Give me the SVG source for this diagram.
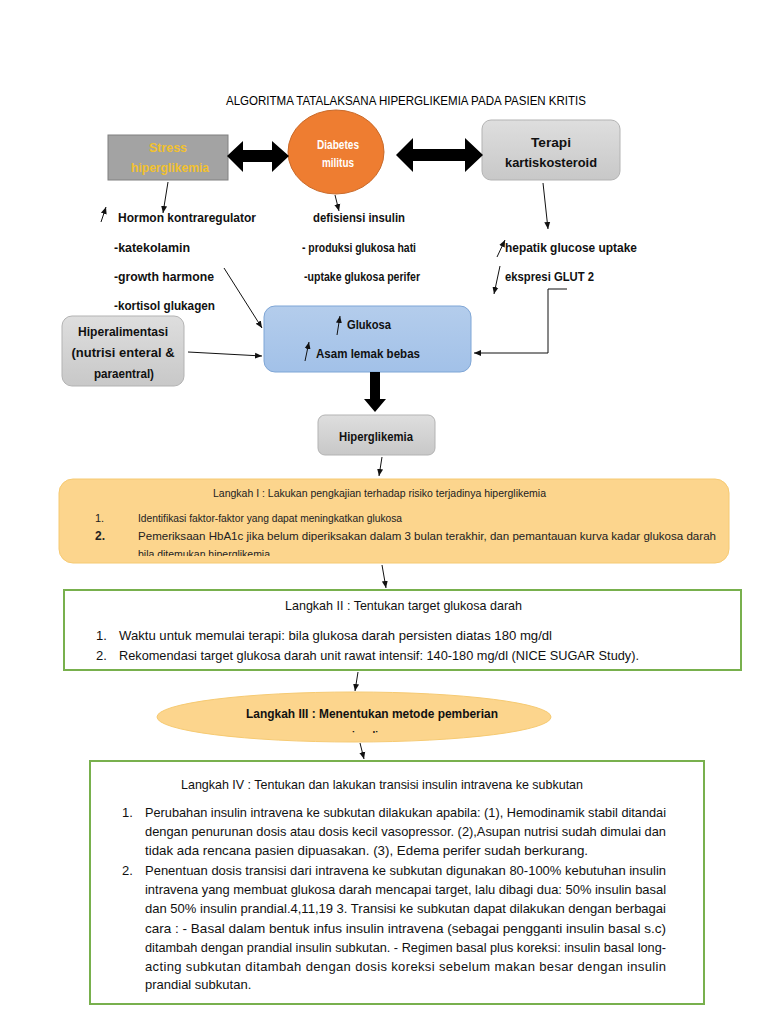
<svg xmlns="http://www.w3.org/2000/svg" width="768" height="1024" viewBox="0 0 768 1024">
<defs>
<style>
text{font-family:"Liberation Sans Narrow","Liberation Sans",Arial,sans-serif;fill:#111;}
.t{font-size:13px;}
.b{font-size:13px;font-weight:bold;}
.s{font-size:11px;fill:#222;font-family:"Liberation Sans",Arial,sans-serif;}
.ln{stroke:#111;stroke-width:1;fill:none;}
</style>
<marker id="ah" markerWidth="8" markerHeight="8" refX="7" refY="4" orient="auto" markerUnits="userSpaceOnUse">
<path d="M0,1 L7,4 L0,7 Z" fill="#111"/>
</marker>
<linearGradient id="gray" x1="0" y1="0" x2="0" y2="1">
<stop offset="0" stop-color="#dedede"/><stop offset="1" stop-color="#c8c8c8"/>
</linearGradient>
<linearGradient id="blue" x1="0" y1="0" x2="0" y2="1">
<stop offset="0" stop-color="#b4cdec"/><stop offset="1" stop-color="#a2c1e8"/>
</linearGradient>
<clipPath id="c1"><rect x="60" y="480" width="668" height="76"/></clipPath>
<clipPath id="c3"><rect x="156" y="692" width="396" height="41"/></clipPath>
</defs>
<rect width="768" height="1024" fill="#fff"/>

<text class="t" x="406" y="105" text-anchor="middle" textLength="360" lengthAdjust="spacingAndGlyphs" style="fill:#000">ALGORITMA TATALAKSANA HIPERGLIKEMIA PADA PASIEN KRITIS</text>

<g id="stress">
<rect x="108" y="135" width="120" height="45" fill="#a3a3a3" stroke="#808080"/>
<text class="b" x="168" y="152" text-anchor="middle" style="fill:#f2c12e" textLength="38" lengthAdjust="spacingAndGlyphs">Stress</text>
<text class="b" x="170" y="172" text-anchor="middle" style="fill:#f2c12e" textLength="78" lengthAdjust="spacingAndGlyphs">hiperglikemia</text>
</g>
<g id="dm">
<ellipse cx="336" cy="152" rx="48" ry="42" fill="#ee7d31" stroke="#c96a2a"/>
<text class="b" x="338" y="149" text-anchor="middle" style="fill:#fff" textLength="42" lengthAdjust="spacingAndGlyphs">Diabetes</text>
<text class="b" x="338" y="167" text-anchor="middle" style="fill:#fff" textLength="32" lengthAdjust="spacingAndGlyphs">militus</text>
</g>
<g id="terapi">
<rect x="482" y="120" width="138" height="60" rx="9" fill="url(#gray)" stroke="#b3b3b3"/>
<text class="b" x="551" y="147" text-anchor="middle" textLength="40" lengthAdjust="spacingAndGlyphs">Terapi</text>
<text class="b" x="551" y="167" text-anchor="middle" textLength="92" lengthAdjust="spacingAndGlyphs">kartiskosteroid</text>
</g>

<g id="labels">
<text class="b" x="118" y="222" textLength="138" lengthAdjust="spacingAndGlyphs">Hormon kontraregulator</text>
<text class="b" x="114" y="252" textLength="76" lengthAdjust="spacingAndGlyphs">-katekolamin</text>
<text class="b" x="114" y="281" textLength="100" lengthAdjust="spacingAndGlyphs">-growth harmone</text>
<text class="b" x="114" y="310" textLength="101" lengthAdjust="spacingAndGlyphs">-kortisol glukagen</text>
<text class="b" x="313" y="222" textLength="92" lengthAdjust="spacingAndGlyphs">defisiensi insulin</text>
<text class="b" x="302" y="252" textLength="114" lengthAdjust="spacingAndGlyphs">- produksi glukosa hati</text>
<text class="b" x="304" y="281" textLength="116" lengthAdjust="spacingAndGlyphs">-uptake glukosa perifer</text>
<text class="b" x="505" y="252" textLength="132" lengthAdjust="spacingAndGlyphs">hepatik glucose uptake</text>
<text class="b" x="505" y="281" textLength="89" lengthAdjust="spacingAndGlyphs">ekspresi GLUT 2</text>
</g>

<g id="hiperalimentasi">
<rect x="62" y="316" width="122" height="70" rx="10" fill="url(#gray)" stroke="#b3b3b3"/>
<text class="b" x="123" y="336" text-anchor="middle" textLength="90" lengthAdjust="spacingAndGlyphs">Hiperalimentasi</text>
<text class="b" x="123" y="357" text-anchor="middle" textLength="103" lengthAdjust="spacingAndGlyphs">(nutrisi enteral &amp;</text>
<text class="b" x="124" y="378" text-anchor="middle" textLength="60" lengthAdjust="spacingAndGlyphs">paraentral)</text>
</g>
<g id="glukosa">
<rect x="264" y="306" width="207" height="66" rx="11" fill="url(#blue)" stroke="#7fa6d6"/>
<text class="b" x="347" y="329" textLength="44" lengthAdjust="spacingAndGlyphs">Glukosa</text>
<text class="b" x="316" y="358" textLength="104" lengthAdjust="spacingAndGlyphs">Asam lemak bebas</text>
</g>
<g id="hiperglikemia">
<rect x="318" y="415" width="117" height="40" rx="7" fill="url(#gray)" stroke="#b3b3b3"/>
<text class="b" x="376" y="441" text-anchor="middle" textLength="74" lengthAdjust="spacingAndGlyphs">Hiperglikemia</text>
</g>

<g id="langkah1">
<rect x="59" y="479" width="670" height="84" rx="14" fill="#fcd58d" stroke="#f6ca72"/>
<text class="s" x="213" y="497" textLength="333" lengthAdjust="spacingAndGlyphs">Langkah I : Lakukan pengkajian terhadap risiko terjadinya hiperglikemia</text>
<text class="s" x="95" y="522">1.</text>
<text class="s" x="138" y="522" textLength="264" lengthAdjust="spacingAndGlyphs">Identifikasi faktor-faktor yang dapat meningkatkan glukosa</text>
<text class="s" x="95" y="540" style="font-weight:bold;font-size:12px">2.</text>
<text class="s" x="138" y="540" textLength="578" lengthAdjust="spacingAndGlyphs">Pemeriksaan HbA1c jika belum diperiksakan dalam 3 bulan terakhir, dan pemantauan kurva kadar glukosa darah</text>
<text class="s" x="138" y="558" clip-path="url(#c1)" textLength="132" lengthAdjust="spacingAndGlyphs">bila ditemukan hiperglikemia</text>
</g>

<g id="langkah2">
<rect x="64" y="590" width="677" height="80" fill="#fff" stroke="#78b04d" stroke-width="2"/>
<text class="t" x="285" y="610" textLength="237" lengthAdjust="spacingAndGlyphs">Langkah II : Tentukan target glukosa darah</text>
<text class="t" x="96" y="640">1.</text>
<text class="t" x="119" y="640" textLength="433" lengthAdjust="spacingAndGlyphs">Waktu untuk memulai terapi: bila glukosa darah persisten diatas 180 mg/dl</text>
<text class="t" x="96" y="660">2.</text>
<text class="t" x="119" y="660" textLength="520" lengthAdjust="spacingAndGlyphs">Rekomendasi target glukosa darah unit rawat intensif: 140-180 mg/dl (NICE SUGAR Study).</text>
</g>

<g id="langkah3">
<ellipse cx="354" cy="717" rx="197" ry="25" fill="#fcd58d" stroke="#f6ca72"/>
<text class="b" x="246" y="718" textLength="252" lengthAdjust="spacingAndGlyphs">Langkah III : Menentukan metode pemberian</text>
<text class="b" x="352" y="740" clip-path="url(#c3)" textLength="32" lengthAdjust="spacingAndGlyphs">insulin</text>
</g>

<g id="langkah4">
<rect x="90" y="761" width="614" height="243" fill="#fff" stroke="#78b04d" stroke-width="2"/>
<text class="t" x="181" y="789" textLength="402" lengthAdjust="spacingAndGlyphs">Langkah IV : Tentukan dan lakukan transisi insulin intravena ke subkutan</text>
<text class="t" x="122" y="817">1.</text>
<text class="t" x="145" y="817" textLength="521" lengthAdjust="spacingAndGlyphs">Perubahan insulin intravena ke subkutan dilakukan apabila: (1), Hemodinamik stabil ditandai</text>
<text class="t" x="145" y="836" textLength="521" lengthAdjust="spacingAndGlyphs">dengan penurunan dosis atau dosis kecil vasopressor. (2),Asupan nutrisi sudah dimulai dan</text>
<text class="t" x="145" y="855" textLength="443" lengthAdjust="spacingAndGlyphs">tidak ada rencana pasien dipuasakan. (3), Edema perifer sudah berkurang.</text>
<text class="t" x="122" y="875">2.</text>
<text class="t" x="145" y="875" textLength="521" lengthAdjust="spacingAndGlyphs">Penentuan dosis transisi dari intravena ke subkutan digunakan 80-100% kebutuhan insulin</text>
<text class="t" x="145" y="894" textLength="521" lengthAdjust="spacingAndGlyphs">intravena yang membuat glukosa darah mencapai target, lalu dibagi dua: 50% insulin basal</text>
<text class="t" x="145" y="913" textLength="521" lengthAdjust="spacingAndGlyphs">dan 50% insulin prandial.4,11,19 3. Transisi ke subkutan dapat dilakukan dengan berbagai</text>
<text class="t" x="145" y="933" textLength="521" lengthAdjust="spacingAndGlyphs">cara : - Basal dalam bentuk infus insulin intravena (sebagai pengganti insulin basal s.c)</text>
<text class="t" x="145" y="952" textLength="521" lengthAdjust="spacingAndGlyphs">ditambah dengan prandial insulin subkutan. - Regimen basal plus koreksi: insulin basal long-</text>
<text class="t" x="145" y="971" textLength="521" lengthAdjust="spacing">acting subkutan ditambah dengan dosis koreksi sebelum makan besar dengan insulin</text>
<text class="t" x="145" y="989">prandial subkutan.</text>
</g>

<g id="connectors">
<path d="M227,156 L243,141 L243,150 L272,150 L272,141 L289,156 L272,172 L272,162 L243,162 L243,172 Z" fill="#000"/>
<path d="M396,155 L413,138 L413,149 L465,149 L465,138 L483,155 L465,172 L465,161 L413,161 L413,172 Z" fill="#000"/>
<path d="M370,372 L380,372 L380,399 L386,399 L375,412 L364,399 L370,399 Z" fill="#000"/>
<line class="ln" x1="168" y1="182" x2="163" y2="213" marker-end="url(#ah)"/>
<line class="ln" x1="101" y1="222" x2="106" y2="207" marker-end="url(#ah)"/>
<line class="ln" x1="335" y1="195" x2="339" y2="211" marker-end="url(#ah)"/>
<line class="ln" x1="543" y1="183" x2="548" y2="229" marker-end="url(#ah)"/>
<line class="ln" x1="497" y1="257" x2="505" y2="240" marker-end="url(#ah)"/>
<line class="ln" x1="500" y1="266" x2="494" y2="294" marker-end="url(#ah)"/>
<line class="ln" x1="224" y1="268" x2="262" y2="328" marker-end="url(#ah)"/>
<line class="ln" x1="188" y1="352" x2="262" y2="356" marker-end="url(#ah)"/>
<polyline class="ln" points="567,289 548,289 548,353 474,353" marker-end="url(#ah)"/>
<line class="ln" x1="337" y1="335" x2="340" y2="316" marker-end="url(#ah)"/>
<line class="ln" x1="305" y1="361" x2="309" y2="342" marker-end="url(#ah)"/>
<line class="ln" x1="382" y1="457" x2="379" y2="476" marker-end="url(#ah)"/>
<line class="ln" x1="382" y1="565" x2="386" y2="588" marker-end="url(#ah)"/>
<line class="ln" x1="358" y1="672" x2="355" y2="691" marker-end="url(#ah)"/>
<line class="ln" x1="360" y1="743" x2="364" y2="759" marker-end="url(#ah)"/>
</g>
</svg>
